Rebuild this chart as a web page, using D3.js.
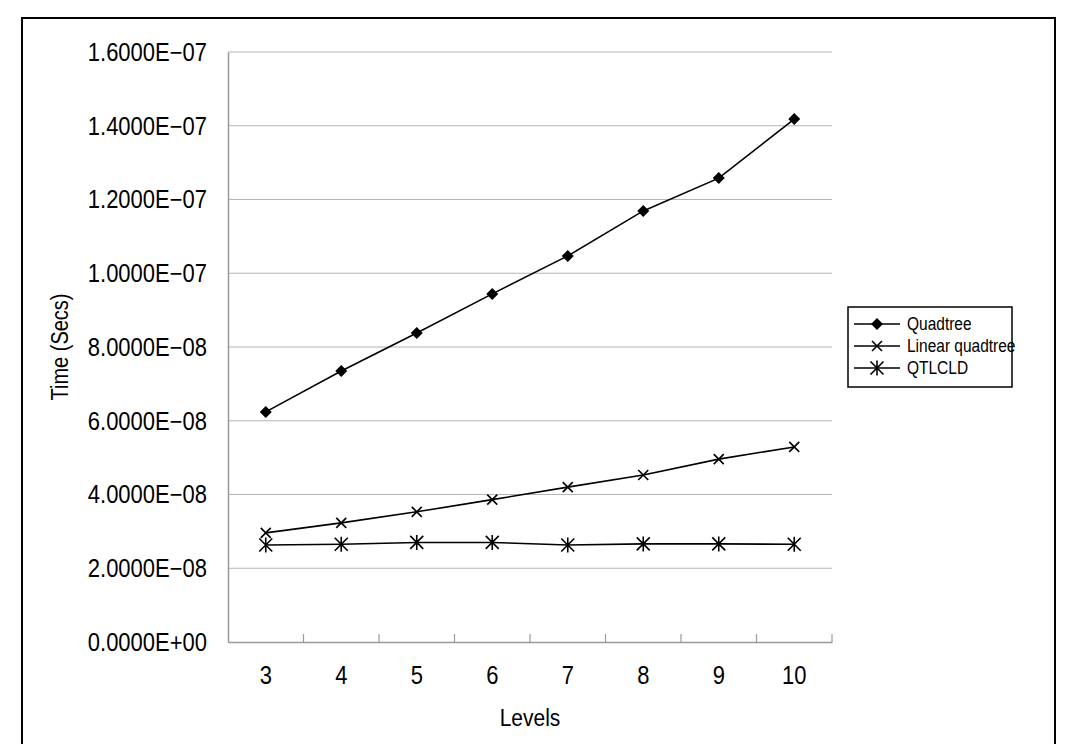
<!DOCTYPE html>
<html><head><meta charset="utf-8">
<script src="https://cdn.jsdelivr.net/npm/d3@7"></script>
<style>body{margin:0;background:#fff;} text{font-family:"Liberation Sans",Arial,sans-serif;fill:#000;}</style>
</head><body>
<svg id="c" width="1075" height="744"></svg>
<script>
const levels = [3,4,5,6,7,8,9,10];
const quadtree = [6.24e-8,7.35e-8,8.38e-8,9.44e-8,10.47e-8,11.69e-8,12.58e-8,14.18e-8];
const linearQuadtree = [2.96e-8,3.23e-8,3.53e-8,3.86e-8,4.20e-8,4.53e-8,4.96e-8,5.29e-8];
const qtlcld = [2.63e-8,2.65e-8,2.70e-8,2.70e-8,2.63e-8,2.66e-8,2.66e-8,2.65e-8];
const yTicks = [0,2e-8,4e-8,6e-8,8e-8,10e-8,12e-8,14e-8,16e-8];
const seriesNames = ["Quadtree","Linear quadtree","QTLCLD"];
const SY = 1.15;

const svg = d3.select("#c");
svg.append("rect").attr("x",22).attr("y",18).attr("width",1033).attr("height",760)
  .attr("fill","none").attr("stroke","#000").attr("stroke-width",2);

const L=228,R=832,T=52,B=642;
const x = d3.scaleBand().domain(levels).range([L,R]);
const y = d3.scaleLinear().domain([0,1.6e-7]).range([B,T]);

// gridlines
svg.append("g").selectAll("line").data(yTicks.slice(1)).join("line")
  .attr("x1",L).attr("x2",R).attr("y1",d=>y(d)).attr("y2",d=>y(d))
  .attr("stroke","#b4b4b4").attr("stroke-width",1.2);

// axes
const fmt = d => { const e = d===0 ? 0 : Math.floor(Math.log10(d)+1e-9); const m = d===0?0:d/Math.pow(10,e);
  const es = (e<0?"\u2212":"+") + String(Math.abs(e)).padStart(2,"0"); return m.toFixed(4)+"E"+es; };
const ya = svg.append("g").attr("transform",`translate(${L},0)`)
  .call(d3.axisLeft(y).tickValues(yTicks).tickFormat(fmt).tickSize(0).tickPadding(21));
ya.select(".domain").attr("stroke","#999").attr("stroke-width",1.5);
ya.selectAll("text").attr("font-size",22).attr("font-family","Liberation Sans, Arial, sans-serif")
  .attr("dy","0.33em").attr("transform",`scale(1,${SY})`);

const xa = svg.append("g").attr("transform",`translate(0,${B})`)
  .call(d3.axisBottom(x).tickSize(0).tickPadding(25));
xa.select(".domain").attr("stroke","#999").attr("stroke-width",1.5);
xa.selectAll("text").attr("font-size",22).attr("font-family","Liberation Sans, Arial, sans-serif")
  .attr("y",0).attr("dy","0.71em").attr("transform",`translate(0,24) scale(1,${SY})`);
// tick marks at band boundaries (inside)
const bounds = levels.map(d=>x(d)).concat([R]);
svg.append("g").selectAll("line").data(bounds.slice(1)).join("line")
  .attr("x1",d=>d).attr("x2",d=>d).attr("y1",B-8).attr("y2",B)
  .attr("stroke","#999").attr("stroke-width",1.2);

svg.append("text").attr("transform",`translate(${(L+R)/2},726) scale(1,${SY})`).attr("text-anchor","middle")
  .attr("font-size",21).text("Levels");
svg.append("text").attr("transform",`translate(68,${(T+B)/2}) rotate(-90) scale(1,${SY})`).attr("text-anchor","middle")
  .attr("font-size",20).text("Time (Secs)");

const cx = d => x(d)+x.bandwidth()/2;
const line = d3.line().x((d,i)=>cx(levels[i])).y(d=>y(d));

function marker(g, type, px, py){
  if(type===0){
    g.append("path").attr("d",`M${px},${py-6}L${px+6},${py}L${px},${py+6}L${px-6},${py}Z`).attr("fill","#000");
  } else if(type===1){
    const s=5;
    g.append("path").attr("d",`M${px-s},${py-s}L${px+s},${py+s}M${px-s},${py+s}L${px+s},${py-s}`)
      .attr("stroke","#000").attr("stroke-width",1.6).attr("fill","none");
  } else {
    const s=6.5;
    g.append("path").attr("d",`M${px-s},${py-s}L${px+s},${py+s}M${px-s},${py+s}L${px+s},${py-s}M${px},${py-s-1}L${px},${py+s+1}`)
      .attr("stroke","#000").attr("stroke-width",1.6).attr("fill","none");
  }
}

const allSeries = [quadtree, linearQuadtree, qtlcld];
allSeries.forEach((s,k)=>{
  const g = svg.append("g");
  g.append("path").datum(s).attr("d",line).attr("fill","none").attr("stroke","#000").attr("stroke-width",1.6);
  s.forEach((v,i)=>marker(g,k,cx(levels[i]),y(v)));
});

// legend
const lg = svg.append("g");
lg.append("rect").attr("x",848).attr("y",307).attr("width",164).attr("height",80)
  .attr("fill","#fff").attr("stroke","#000").attr("stroke-width",1.5);
const ly = [324,346,368];
seriesNames.forEach((n,k)=>{
  lg.append("line").attr("x1",854).attr("x2",900).attr("y1",ly[k]).attr("y2",ly[k]).attr("stroke","#000").attr("stroke-width",1.6);
  marker(lg,k,877,ly[k]);
  lg.append("text").attr("transform",`translate(907,${ly[k]+6}) scale(1,${SY})`).attr("font-size",15.5).text(n);
});
</script>
</body></html>
